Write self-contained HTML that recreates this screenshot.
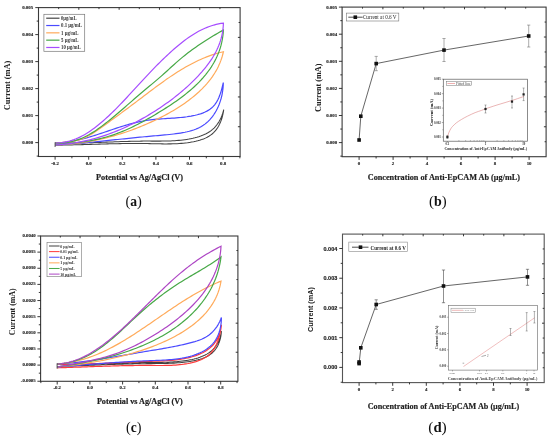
<!DOCTYPE html>
<html><head><meta charset="utf-8"><title>Figure</title>
<style>html,body{margin:0;padding:0;background:#fff;width:550px;height:438px;overflow:hidden}svg{display:block}</style>
</head><body>
<svg width="550" height="438" viewBox="0 0 550 438">
<rect width="550" height="438" fill="#fff"/>
<rect x="38.50" y="7.60" width="201.60" height="148.90" fill="none" stroke="#3a3a3a" stroke-width="1.10"/>
<path d="M35.30,142.60L38.50,142.60M35.30,115.60L38.50,115.60M35.30,88.60L38.50,88.60M35.30,61.60L38.50,61.60M35.30,34.60L38.50,34.60M35.30,7.60L38.50,7.60M36.70,156.10L38.50,156.10M36.70,129.10L38.50,129.10M36.70,102.10L38.50,102.10M36.70,75.10L38.50,75.10M36.70,48.10L38.50,48.10M36.70,21.10L38.50,21.10M55.10,156.50L55.10,159.70M88.70,156.50L88.70,159.70M122.30,156.50L122.30,159.70M155.90,156.50L155.90,159.70M189.50,156.50L189.50,159.70M223.10,156.50L223.10,159.70M71.90,156.50L71.90,158.30M105.50,156.50L105.50,158.30M139.10,156.50L139.10,158.30M172.70,156.50L172.70,158.30M206.30,156.50L206.30,158.30M239.90,156.50L239.90,158.30M58.66,7.60L58.66,9.10M78.82,7.60L78.82,9.80M98.98,7.60L98.98,9.10M119.14,7.60L119.14,9.80M139.30,7.60L139.30,9.10M159.46,7.60L159.46,9.80M179.62,7.60L179.62,9.10M199.78,7.60L199.78,9.80M219.94,7.60L219.94,9.10M240.10,22.49L238.60,22.49M240.10,37.38L237.90,37.38M240.10,52.27L238.60,52.27M240.10,67.16L237.90,67.16M240.10,82.05L238.60,82.05M240.10,96.94L237.90,96.94M240.10,111.83L238.60,111.83M240.10,126.72L237.90,126.72M240.10,141.61L238.60,141.61" stroke="#222" stroke-width="0.90" fill="none"/>
<text x="33.20" y="144.20" font-size="4.90" font-family="'Liberation Serif', 'DejaVu Serif', serif" text-anchor="end" font-weight="bold" fill="#1a1a1a" stroke="#1a1a1a" stroke-width="0.12">0.000</text>
<text x="33.20" y="117.20" font-size="4.90" font-family="'Liberation Serif', 'DejaVu Serif', serif" text-anchor="end" font-weight="bold" fill="#1a1a1a" stroke="#1a1a1a" stroke-width="0.12">0.001</text>
<text x="33.20" y="90.20" font-size="4.90" font-family="'Liberation Serif', 'DejaVu Serif', serif" text-anchor="end" font-weight="bold" fill="#1a1a1a" stroke="#1a1a1a" stroke-width="0.12">0.002</text>
<text x="33.20" y="63.20" font-size="4.90" font-family="'Liberation Serif', 'DejaVu Serif', serif" text-anchor="end" font-weight="bold" fill="#1a1a1a" stroke="#1a1a1a" stroke-width="0.12">0.003</text>
<text x="33.20" y="36.20" font-size="4.90" font-family="'Liberation Serif', 'DejaVu Serif', serif" text-anchor="end" font-weight="bold" fill="#1a1a1a" stroke="#1a1a1a" stroke-width="0.12">0.004</text>
<text x="33.20" y="9.20" font-size="4.90" font-family="'Liberation Serif', 'DejaVu Serif', serif" text-anchor="end" font-weight="bold" fill="#1a1a1a" stroke="#1a1a1a" stroke-width="0.12">0.005</text>
<text x="55.10" y="164.60" font-size="4.90" font-family="'Liberation Serif', 'DejaVu Serif', serif" text-anchor="middle" font-weight="bold" fill="#1a1a1a" stroke="#1a1a1a" stroke-width="0.12">-0.2</text>
<text x="88.70" y="164.60" font-size="4.90" font-family="'Liberation Serif', 'DejaVu Serif', serif" text-anchor="middle" font-weight="bold" fill="#1a1a1a" stroke="#1a1a1a" stroke-width="0.12">0.0</text>
<text x="122.30" y="164.60" font-size="4.90" font-family="'Liberation Serif', 'DejaVu Serif', serif" text-anchor="middle" font-weight="bold" fill="#1a1a1a" stroke="#1a1a1a" stroke-width="0.12">0.2</text>
<text x="155.90" y="164.60" font-size="4.90" font-family="'Liberation Serif', 'DejaVu Serif', serif" text-anchor="middle" font-weight="bold" fill="#1a1a1a" stroke="#1a1a1a" stroke-width="0.12">0.4</text>
<text x="189.50" y="164.60" font-size="4.90" font-family="'Liberation Serif', 'DejaVu Serif', serif" text-anchor="middle" font-weight="bold" fill="#1a1a1a" stroke="#1a1a1a" stroke-width="0.12">0.6</text>
<text x="223.10" y="164.60" font-size="4.90" font-family="'Liberation Serif', 'DejaVu Serif', serif" text-anchor="middle" font-weight="bold" fill="#1a1a1a" stroke="#1a1a1a" stroke-width="0.12">0.8</text>
<path d="M55.10,143.00L57.18,143.04L59.25,143.08L61.32,143.10L63.39,143.12L65.46,143.13L67.53,143.13L69.59,143.12L71.65,143.11L73.71,143.09L75.77,143.06L77.82,143.02L79.88,142.98L81.93,142.94L83.98,142.89L86.03,142.83L88.08,142.77L90.13,142.71L92.18,142.65L94.23,142.58L96.28,142.51L98.32,142.43L100.37,142.36L102.42,142.28L104.46,142.20L106.51,142.13L108.56,142.05L110.61,141.97L112.65,141.90L114.70,141.82L116.75,141.75L118.80,141.67L120.86,141.60L122.91,141.54L124.96,141.47L127.02,141.41L129.08,141.36L131.13,141.30L133.19,141.26L135.26,141.21L137.32,141.18L139.39,141.15L141.46,141.12L143.53,141.10L145.60,141.09L147.68,141.09L149.76,141.09L151.84,141.10L153.92,141.10L156.00,141.11L158.08,141.11L160.16,141.10L162.24,141.09L164.32,141.06L166.39,141.02L168.46,140.97L170.53,140.90L172.59,140.81L174.65,140.69L176.71,140.55L178.75,140.39L180.79,140.19L182.83,139.96L184.85,139.70L186.87,139.40L188.88,139.07L190.88,138.69L192.87,138.27L194.85,137.80L196.81,137.28L198.74,136.70L200.64,136.06L202.51,135.35L204.34,134.57L206.11,133.71L207.83,132.76L209.49,131.72L211.08,130.59L212.60,129.35L214.04,128.01L215.40,126.57L216.68,125.02L217.87,123.39L218.98,121.66L220.00,119.84L220.93,117.95L221.76,115.97L222.50,113.91L223.15,111.79L223.70,109.60L223.39,111.79L222.98,113.98L222.48,116.13L221.89,118.25L221.19,120.33L220.40,122.34L219.51,124.29L218.53,126.16L217.44,127.95L216.26,129.63L214.98,131.20L213.60,132.65L212.12,133.97L210.55,135.17L208.90,136.26L207.17,137.24L205.38,138.12L203.52,138.90L201.62,139.60L199.67,140.23L197.68,140.78L195.67,141.27L193.64,141.70L191.60,142.08L189.54,142.42L187.48,142.72L185.41,142.97L183.34,143.19L181.26,143.38L179.17,143.53L177.07,143.65L174.98,143.75L172.87,143.82L170.76,143.87L168.65,143.89L166.54,143.90L164.42,143.90L162.30,143.88L160.18,143.85L158.06,143.81L155.94,143.77L153.82,143.72L151.70,143.67L149.58,143.62L147.46,143.58L145.34,143.55L143.23,143.52L141.12,143.50L139.01,143.48L136.90,143.47L134.80,143.47L132.69,143.48L130.59,143.49L128.49,143.50L126.39,143.52L124.30,143.55L122.20,143.58L120.10,143.61L118.01,143.65L115.92,143.69L113.83,143.74L111.73,143.79L109.64,143.84L107.55,143.89L105.46,143.95L103.37,144.00L101.28,144.06L99.19,144.12L97.10,144.19L95.01,144.25L92.92,144.31L90.83,144.37L88.74,144.44L86.64,144.50L84.55,144.56L82.46,144.62L80.36,144.68L78.27,144.74L76.17,144.80L74.07,144.85L71.97,144.90L69.87,144.95L67.76,145.00L65.66,145.04L63.55,145.08L61.44,145.12L59.33,145.15L57.22,145.18L55.10,145.20" fill="none" stroke="#444444" stroke-width="1.05" stroke-linejoin="miter"/>
<path d="M55.10,143.00L57.27,142.94L59.43,142.82L61.58,142.67L63.72,142.46L65.85,142.21L67.96,141.93L70.07,141.60L72.18,141.23L74.27,140.83L76.35,140.40L78.43,139.94L80.51,139.45L82.57,138.93L84.63,138.38L86.69,137.82L88.74,137.23L90.78,136.62L92.83,136.00L94.86,135.36L96.90,134.71L98.93,134.05L100.97,133.38L103.00,132.70L105.03,132.02L107.06,131.33L109.09,130.64L111.12,129.96L113.15,129.28L115.18,128.60L117.21,127.93L119.25,127.27L121.29,126.63L123.33,125.99L125.38,125.37L127.43,124.77L129.49,124.19L131.55,123.63L133.62,123.09L135.69,122.58L137.77,122.10L139.86,121.64L141.96,121.22L144.06,120.83L146.17,120.47L148.29,120.16L150.42,119.88L152.56,119.63L154.71,119.41L156.86,119.21L159.01,119.04L161.17,118.88L163.33,118.73L165.49,118.59L167.65,118.45L169.81,118.32L171.97,118.18L174.12,118.03L176.27,117.87L178.41,117.70L180.55,117.51L182.68,117.29L184.80,117.04L186.91,116.77L189.01,116.45L191.10,116.10L193.17,115.70L195.23,115.26L197.28,114.76L199.29,114.20L201.27,113.57L203.19,112.85L205.07,112.05L206.88,111.14L208.61,110.13L210.26,109.01L211.82,107.75L213.28,106.36L214.62,104.83L215.85,103.15L216.97,101.34L217.98,99.42L218.90,97.41L219.73,95.34L220.48,93.21L221.16,91.06L221.77,88.91L222.33,86.76L222.83,84.65L223.30,82.60L223.24,84.89L223.09,87.19L222.86,89.48L222.54,91.76L222.15,94.02L221.67,96.27L221.11,98.49L220.46,100.69L219.74,102.84L218.94,104.96L218.05,107.03L217.09,109.05L216.05,111.02L214.93,112.93L213.73,114.76L212.45,116.53L211.10,118.22L209.67,119.84L208.17,121.36L206.59,122.79L204.94,124.13L203.21,125.36L201.41,126.49L199.54,127.51L197.60,128.43L195.60,129.25L193.56,129.99L191.46,130.65L189.32,131.24L187.16,131.77L184.96,132.24L182.74,132.66L180.50,133.04L178.26,133.38L176.01,133.70L173.75,133.99L171.50,134.26L169.24,134.50L166.97,134.73L164.71,134.95L162.45,135.16L160.18,135.36L157.92,135.55L155.66,135.75L153.40,135.94L151.15,136.14L148.90,136.35L146.65,136.55L144.40,136.76L142.16,136.98L139.92,137.20L137.68,137.42L135.44,137.64L133.21,137.86L130.98,138.09L128.75,138.32L126.52,138.55L124.29,138.78L122.07,139.01L119.84,139.24L117.62,139.48L115.40,139.71L113.17,139.94L110.95,140.17L108.73,140.40L106.51,140.63L104.29,140.86L102.07,141.09L99.84,141.31L97.62,141.54L95.40,141.76L93.18,141.98L90.95,142.19L88.73,142.40L86.50,142.61L84.27,142.81L82.04,143.01L79.81,143.21L77.57,143.40L75.34,143.59L73.10,143.77L70.86,143.94L68.62,144.11L66.37,144.28L64.12,144.44L61.87,144.59L59.62,144.73L57.36,144.87L55.10,145.00" fill="none" stroke="#4a4aff" stroke-width="1.20" stroke-linejoin="miter"/>
<path d="M55.10,143.00L57.27,142.84L59.46,142.69L61.67,142.54L63.88,142.38L66.10,142.19L68.32,141.97L70.52,141.69L72.70,141.36L74.87,140.96L76.99,140.48L79.09,139.90L81.13,139.22L83.14,138.44L85.11,137.57L87.04,136.62L88.94,135.60L90.81,134.51L92.66,133.38L94.48,132.19L96.30,130.98L98.09,129.74L99.88,128.48L101.67,127.22L103.45,125.95L105.22,124.68L107.00,123.41L108.77,122.14L110.54,120.86L112.30,119.58L114.06,118.30L115.82,117.01L117.58,115.72L119.34,114.43L121.09,113.14L122.85,111.84L124.60,110.54L126.35,109.24L128.10,107.94L129.84,106.63L131.59,105.32L133.34,104.01L135.09,102.69L136.83,101.37L138.58,100.05L140.33,98.72L142.07,97.40L143.82,96.07L145.57,94.74L147.32,93.41L149.08,92.09L150.83,90.76L152.59,89.44L154.35,88.12L156.12,86.81L157.89,85.51L159.67,84.21L161.45,82.92L163.23,81.64L165.02,80.37L166.82,79.11L168.62,77.87L170.43,76.63L172.25,75.41L174.08,74.21L175.91,73.02L177.75,71.84L179.61,70.69L181.47,69.55L183.34,68.44L185.22,67.34L187.11,66.27L189.01,65.21L190.92,64.19L192.85,63.18L194.79,62.20L196.74,61.25L198.70,60.33L200.67,59.43L202.66,58.56L204.67,57.72L206.68,56.92L208.72,56.14L210.77,55.40L212.83,54.69L214.91,54.02L217.01,53.38L219.12,52.78L221.25,52.22L223.40,51.70L222.87,54.01L222.26,56.26L221.57,58.48L220.81,60.65L219.98,62.78L219.09,64.87L218.13,66.91L217.11,68.92L216.03,70.88L214.88,72.81L213.69,74.70L212.43,76.56L211.13,78.37L209.77,80.15L208.37,81.90L206.92,83.61L205.43,85.29L203.89,86.94L202.32,88.56L200.70,90.14L199.06,91.70L197.37,93.23L195.66,94.72L193.92,96.20L192.15,97.64L190.35,99.06L188.53,100.45L186.68,101.81L184.81,103.15L182.91,104.46L180.99,105.75L179.05,107.01L177.10,108.25L175.12,109.47L173.13,110.66L171.12,111.83L169.10,112.98L167.06,114.10L165.01,115.21L162.95,116.29L160.88,117.35L158.80,118.40L156.71,119.42L154.61,120.42L152.51,121.40L150.41,122.37L148.30,123.31L146.18,124.24L144.06,125.15L141.93,126.04L139.80,126.91L137.66,127.76L135.52,128.59L133.37,129.40L131.22,130.19L129.07,130.96L126.90,131.71L124.74,132.45L122.57,133.16L120.39,133.85L118.21,134.52L116.02,135.18L113.83,135.81L111.63,136.42L109.43,137.02L107.22,137.59L105.01,138.14L102.79,138.67L100.57,139.18L98.34,139.67L96.11,140.14L93.88,140.59L91.63,141.02L89.39,141.43L87.14,141.82L84.88,142.18L82.62,142.53L80.35,142.85L78.08,143.15L75.81,143.43L73.52,143.69L71.24,143.93L68.95,144.15L66.65,144.35L64.35,144.52L62.05,144.67L59.74,144.80L57.42,144.91L55.10,145.00" fill="none" stroke="#ffaa5a" stroke-width="1.20" stroke-linejoin="miter"/>
<path d="M55.10,143.00L57.54,143.08L59.95,143.06L62.33,142.94L64.68,142.74L67.00,142.44L69.29,142.06L71.54,141.58L73.77,141.03L75.97,140.39L78.13,139.67L80.26,138.87L82.35,137.99L84.42,137.05L86.45,136.03L88.46,134.95L90.44,133.82L92.40,132.63L94.33,131.40L96.24,130.13L98.14,128.82L100.01,127.48L101.87,126.11L103.72,124.72L105.55,123.31L107.38,121.89L109.19,120.44L110.99,118.99L112.78,117.52L114.57,116.03L116.34,114.54L118.12,113.04L119.88,111.52L121.64,110.01L123.40,108.48L125.15,106.95L126.90,105.42L128.65,103.89L130.40,102.36L132.15,100.83L133.90,99.30L135.65,97.77L137.41,96.25L139.17,94.74L140.93,93.23L142.70,91.74L144.48,90.25L146.26,88.77L148.04,87.29L149.82,85.81L151.60,84.34L153.37,82.86L155.14,81.37L156.91,79.88L158.67,78.38L160.41,76.87L162.15,75.34L163.88,73.80L165.60,72.25L167.31,70.69L169.02,69.13L170.73,67.56L172.44,66.00L174.16,64.45L175.88,62.91L177.62,61.38L179.37,59.87L181.13,58.37L182.91,56.90L184.71,55.45L186.52,54.01L188.35,52.60L190.20,51.21L192.05,49.83L193.93,48.48L195.81,47.14L197.71,45.82L199.62,44.51L201.55,43.23L203.48,41.95L205.43,40.70L207.39,39.46L209.36,38.23L211.34,37.02L213.33,35.82L215.32,34.63L217.33,33.45L219.35,32.29L221.37,31.14L223.40,30.00L223.23,32.63L222.96,35.22L222.61,37.76L222.18,40.26L221.67,42.72L221.07,45.13L220.40,47.50L219.65,49.83L218.83,52.12L217.94,54.37L216.98,56.58L215.95,58.76L214.85,60.89L213.69,62.99L212.47,65.05L211.19,67.08L209.85,69.07L208.45,71.02L207.01,72.95L205.51,74.84L203.96,76.69L202.36,78.52L200.72,80.31L199.04,82.08L197.31,83.81L195.55,85.52L193.74,87.20L191.90,88.85L190.03,90.47L188.13,92.07L186.20,93.64L184.24,95.19L182.26,96.72L180.25,98.22L178.22,99.69L176.17,101.15L174.11,102.58L172.03,104.00L169.93,105.39L167.83,106.77L165.72,108.12L163.60,109.46L161.47,110.78L159.35,112.09L157.22,113.38L155.09,114.65L152.96,115.91L150.83,117.15L148.70,118.37L146.56,119.58L144.42,120.76L142.27,121.93L140.12,123.07L137.95,124.20L135.78,125.30L133.60,126.37L131.40,127.43L129.20,128.46L126.98,129.46L124.75,130.43L122.50,131.37L120.24,132.28L117.97,133.16L115.68,134.00L113.37,134.81L111.05,135.57L108.71,136.30L106.36,136.99L103.99,137.64L101.61,138.26L99.21,138.83L96.80,139.38L94.38,139.89L91.95,140.37L89.51,140.82L87.06,141.24L84.61,141.64L82.15,142.02L79.69,142.37L77.23,142.70L74.76,143.01L72.29,143.30L69.82,143.58L67.36,143.84L64.90,144.09L62.44,144.33L59.99,144.56L57.54,144.78L55.10,145.00" fill="none" stroke="#46a846" stroke-width="1.20" stroke-linejoin="miter"/>
<path d="M55.10,143.00L57.61,142.94L60.07,142.76L62.48,142.48L64.85,142.10L67.18,141.61L69.46,141.03L71.71,140.36L73.92,139.61L76.09,138.77L78.22,137.85L80.33,136.86L82.39,135.80L84.43,134.67L86.44,133.49L88.41,132.24L90.36,130.94L92.28,129.60L94.18,128.21L96.06,126.77L97.91,125.31L99.74,123.81L101.55,122.28L103.35,120.73L105.12,119.15L106.88,117.56L108.63,115.94L110.36,114.31L112.08,112.66L113.78,110.99L115.47,109.31L117.16,107.62L118.83,105.91L120.49,104.19L122.15,102.46L123.79,100.72L125.44,98.98L127.07,97.22L128.70,95.46L130.33,93.70L131.95,91.93L133.57,90.16L135.20,88.39L136.82,86.62L138.44,84.85L140.06,83.08L141.69,81.31L143.31,79.55L144.94,77.80L146.58,76.05L148.22,74.30L149.86,72.56L151.52,70.83L153.17,69.11L154.84,67.39L156.51,65.69L158.19,63.99L159.88,62.31L161.57,60.64L163.28,58.97L165.00,57.33L166.73,55.69L168.47,54.07L170.22,52.47L171.99,50.88L173.77,49.31L175.56,47.75L177.37,46.21L179.20,44.70L181.04,43.20L182.90,41.74L184.78,40.30L186.68,38.89L188.60,37.52L190.54,36.19L192.51,34.91L194.51,33.66L196.53,32.47L198.59,31.33L200.67,30.24L202.78,29.21L204.92,28.25L207.10,27.34L209.32,26.51L211.57,25.74L213.85,25.05L216.18,24.44L218.54,23.91L220.95,23.46L223.40,23.10L223.28,25.73L223.05,28.32L222.73,30.86L222.31,33.37L221.79,35.84L221.19,38.26L220.49,40.65L219.72,42.99L218.85,45.30L217.91,47.57L216.89,49.80L215.80,51.99L214.63,54.14L213.40,56.26L212.11,58.35L210.76,60.40L209.35,62.42L207.89,64.41L206.39,66.37L204.84,68.30L203.25,70.20L201.63,72.09L199.97,73.94L198.29,75.78L196.58,77.59L194.84,79.38L193.07,81.15L191.28,82.89L189.47,84.62L187.63,86.32L185.77,88.00L183.88,89.66L181.98,91.29L180.05,92.91L178.10,94.50L176.14,96.07L174.16,97.62L172.16,99.15L170.14,100.66L168.11,102.15L166.06,103.61L164.00,105.06L161.92,106.49L159.83,107.89L157.74,109.28L155.63,110.64L153.51,111.99L151.37,113.31L149.23,114.62L147.08,115.90L144.92,117.16L142.74,118.39L140.56,119.61L138.36,120.80L136.16,121.96L133.94,123.11L131.71,124.23L129.47,125.32L127.23,126.39L124.97,127.43L122.70,128.45L120.42,129.45L118.13,130.41L115.83,131.35L113.52,132.26L111.20,133.15L108.87,134.00L106.53,134.83L104.18,135.63L101.82,136.40L99.45,137.14L97.07,137.85L94.68,138.53L92.28,139.18L89.86,139.80L87.44,140.38L85.01,140.94L82.57,141.46L80.12,141.95L77.67,142.41L75.20,142.84L72.72,143.23L70.23,143.59L67.73,143.91L65.22,144.20L62.71,144.45L60.18,144.67L57.64,144.85L55.10,145.00" fill="none" stroke="#a64cff" stroke-width="1.20" stroke-linejoin="miter"/>
<line x1="55.10" y1="142.30" x2="55.10" y2="147.00" stroke="#444" stroke-width="0.90"/>
<rect x="43.9" y="14.3" width="40.8" height="37" fill="#fff" stroke="#777" stroke-width="0.7"/>
<line x1="46.20" y1="18.20" x2="59.50" y2="18.20" stroke="#444444" stroke-width="1.20"/>
<text x="61.00" y="20.00" font-size="5.20" font-family="'Liberation Serif', 'DejaVu Serif', serif" font-weight="bold" fill="#333" textLength="15.60" lengthAdjust="spacingAndGlyphs">0µg/mL</text>
<line x1="46.20" y1="25.52" x2="59.50" y2="25.52" stroke="#4a4aff" stroke-width="1.20"/>
<text x="61.00" y="27.32" font-size="5.20" font-family="'Liberation Serif', 'DejaVu Serif', serif" font-weight="bold" fill="#333" textLength="21.10" lengthAdjust="spacingAndGlyphs">0.1 µg/mL</text>
<line x1="46.20" y1="32.84" x2="59.50" y2="32.84" stroke="#ffaa5a" stroke-width="1.20"/>
<text x="61.00" y="34.64" font-size="5.20" font-family="'Liberation Serif', 'DejaVu Serif', serif" font-weight="bold" fill="#333" textLength="17.50" lengthAdjust="spacingAndGlyphs">1 µg/mL</text>
<line x1="46.20" y1="40.16" x2="59.50" y2="40.16" stroke="#46a846" stroke-width="1.20"/>
<text x="61.00" y="41.96" font-size="5.20" font-family="'Liberation Serif', 'DejaVu Serif', serif" font-weight="bold" fill="#333" textLength="17.50" lengthAdjust="spacingAndGlyphs">5 µg/mL</text>
<line x1="46.20" y1="47.48" x2="59.50" y2="47.48" stroke="#a64cff" stroke-width="1.20"/>
<text x="61.00" y="49.28" font-size="5.20" font-family="'Liberation Serif', 'DejaVu Serif', serif" font-weight="bold" fill="#333" textLength="19.80" lengthAdjust="spacingAndGlyphs">10 µg/mL</text>
<text x="96.00" y="179.60" font-size="7.70" font-family="'Liberation Serif', 'DejaVu Serif', serif" font-weight="bold" fill="#222" stroke="#222" stroke-width="0.18" textLength="87.00" lengthAdjust="spacingAndGlyphs">Potential vs Ag/AgCl (V)</text>
<text x="0.00" y="0.00" font-size="7.70" font-family="'Liberation Serif', 'DejaVu Serif', serif" text-anchor="middle" font-weight="bold" fill="#222" textLength="49.60" lengthAdjust="spacingAndGlyphs" transform="translate(10.4,85.5) rotate(-90)">Current (mA)</text>
<rect x="342.10" y="7.10" width="204.00" height="149.60" fill="none" stroke="#3a3a3a" stroke-width="1.10"/>
<path d="M338.90,142.60L342.10,142.60M338.90,115.50L342.10,115.50M338.90,88.40L342.10,88.40M338.90,61.30L342.10,61.30M338.90,34.20L342.10,34.20M338.90,7.10L342.10,7.10M340.30,156.15L342.10,156.15M340.30,129.05L342.10,129.05M340.30,101.95L342.10,101.95M340.30,74.85L342.10,74.85M340.30,47.75L342.10,47.75M340.30,20.65L342.10,20.65M359.10,156.70L359.10,159.90M393.10,156.70L393.10,159.90M427.10,156.70L427.10,159.90M461.10,156.70L461.10,159.90M495.10,156.70L495.10,159.90M529.10,156.70L529.10,159.90M376.10,156.70L376.10,158.50M410.10,156.70L410.10,158.50M444.10,156.70L444.10,158.50M478.10,156.70L478.10,158.50M512.10,156.70L512.10,158.50M362.50,7.10L362.50,8.60M382.90,7.10L382.90,9.30M403.30,7.10L403.30,8.60M423.70,7.10L423.70,9.30M444.10,7.10L444.10,8.60M464.50,7.10L464.50,9.30M484.90,7.10L484.90,8.60M505.30,7.10L505.30,9.30M525.70,7.10L525.70,8.60M546.10,22.06L544.60,22.06M546.10,37.02L543.90,37.02M546.10,51.98L544.60,51.98M546.10,66.94L543.90,66.94M546.10,81.90L544.60,81.90M546.10,96.86L543.90,96.86M546.10,111.82L544.60,111.82M546.10,126.78L543.90,126.78M546.10,141.74L544.60,141.74" stroke="#222" stroke-width="0.90" fill="none"/>
<text x="337.20" y="144.20" font-size="4.90" font-family="'Liberation Serif', 'DejaVu Serif', serif" text-anchor="end" font-weight="bold" fill="#1a1a1a" stroke="#1a1a1a" stroke-width="0.12">0.000</text>
<text x="337.20" y="117.10" font-size="4.90" font-family="'Liberation Serif', 'DejaVu Serif', serif" text-anchor="end" font-weight="bold" fill="#1a1a1a" stroke="#1a1a1a" stroke-width="0.12">0.001</text>
<text x="337.20" y="90.00" font-size="4.90" font-family="'Liberation Serif', 'DejaVu Serif', serif" text-anchor="end" font-weight="bold" fill="#1a1a1a" stroke="#1a1a1a" stroke-width="0.12">0.002</text>
<text x="337.20" y="62.90" font-size="4.90" font-family="'Liberation Serif', 'DejaVu Serif', serif" text-anchor="end" font-weight="bold" fill="#1a1a1a" stroke="#1a1a1a" stroke-width="0.12">0.003</text>
<text x="337.20" y="35.80" font-size="4.90" font-family="'Liberation Serif', 'DejaVu Serif', serif" text-anchor="end" font-weight="bold" fill="#1a1a1a" stroke="#1a1a1a" stroke-width="0.12">0.004</text>
<text x="337.20" y="8.70" font-size="4.90" font-family="'Liberation Serif', 'DejaVu Serif', serif" text-anchor="end" font-weight="bold" fill="#1a1a1a" stroke="#1a1a1a" stroke-width="0.12">0.005</text>
<text x="359.10" y="164.60" font-size="4.90" font-family="'Liberation Serif', 'DejaVu Serif', serif" text-anchor="middle" font-weight="bold" fill="#1a1a1a" stroke="#1a1a1a" stroke-width="0.12">0</text>
<text x="393.10" y="164.60" font-size="4.90" font-family="'Liberation Serif', 'DejaVu Serif', serif" text-anchor="middle" font-weight="bold" fill="#1a1a1a" stroke="#1a1a1a" stroke-width="0.12">2</text>
<text x="427.10" y="164.60" font-size="4.90" font-family="'Liberation Serif', 'DejaVu Serif', serif" text-anchor="middle" font-weight="bold" fill="#1a1a1a" stroke="#1a1a1a" stroke-width="0.12">4</text>
<text x="461.10" y="164.60" font-size="4.90" font-family="'Liberation Serif', 'DejaVu Serif', serif" text-anchor="middle" font-weight="bold" fill="#1a1a1a" stroke="#1a1a1a" stroke-width="0.12">6</text>
<text x="495.10" y="164.60" font-size="4.90" font-family="'Liberation Serif', 'DejaVu Serif', serif" text-anchor="middle" font-weight="bold" fill="#1a1a1a" stroke="#1a1a1a" stroke-width="0.12">8</text>
<text x="529.10" y="164.60" font-size="4.90" font-family="'Liberation Serif', 'DejaVu Serif', serif" text-anchor="middle" font-weight="bold" fill="#1a1a1a" stroke="#1a1a1a" stroke-width="0.12">10</text>
<path d="M359.10,140.00L360.80,116.20L376.20,63.60L444.00,50.10L528.70,36.00" fill="none" stroke="#4a4a4a" stroke-width="0.85"/>
<path d="M376.20,56.40L376.20,70.70M374.60,56.40L377.80,56.40M374.60,70.70L377.80,70.70" stroke="#666" stroke-width="0.55" fill="none"/>
<path d="M444.00,38.50L444.00,61.50M442.40,38.50L445.60,38.50M442.40,61.50L445.60,61.50" stroke="#666" stroke-width="0.55" fill="none"/>
<path d="M528.70,25.10L528.70,47.00M527.10,25.10L530.30,25.10M527.10,47.00L530.30,47.00" stroke="#666" stroke-width="0.55" fill="none"/>
<rect x="357.30" y="138.20" width="3.6" height="3.6" fill="#111"/>
<rect x="359.00" y="114.40" width="3.6" height="3.6" fill="#111"/>
<rect x="374.40" y="61.80" width="3.6" height="3.6" fill="#111"/>
<rect x="442.20" y="48.30" width="3.6" height="3.6" fill="#111"/>
<rect x="526.90" y="34.20" width="3.6" height="3.6" fill="#111"/>
<rect x="346.4" y="13.1" width="52.4" height="7.9" fill="#fff" stroke="#777" stroke-width="0.6"/>
<line x1="348.30" y1="17.20" x2="362.70" y2="17.20" stroke="#222" stroke-width="0.80"/>
<rect x="353.5" y="15.4" width="3.6" height="3.6" fill="#111"/>
<text x="362.90" y="19.00" font-size="5.30" font-family="'Liberation Serif', 'DejaVu Serif', serif" fill="#222" textLength="33.70" lengthAdjust="spacingAndGlyphs">Current at 0.6 V</text>
<rect x="443.30" y="79.20" width="84.20" height="62.00" fill="none" stroke="#5a5a5a" stroke-width="0.70"/>
<text x="440.90" y="80.30" font-size="3.10" font-family="'Liberation Serif', 'DejaVu Serif', serif" text-anchor="end" font-weight="bold" fill="#333">0.005</text>
<text x="440.90" y="94.75" font-size="3.10" font-family="'Liberation Serif', 'DejaVu Serif', serif" text-anchor="end" font-weight="bold" fill="#333">0.004</text>
<text x="440.90" y="109.20" font-size="3.10" font-family="'Liberation Serif', 'DejaVu Serif', serif" text-anchor="end" font-weight="bold" fill="#333">0.003</text>
<text x="440.90" y="123.65" font-size="3.10" font-family="'Liberation Serif', 'DejaVu Serif', serif" text-anchor="end" font-weight="bold" fill="#333">0.002</text>
<text x="440.90" y="138.10" font-size="3.10" font-family="'Liberation Serif', 'DejaVu Serif', serif" text-anchor="end" font-weight="bold" fill="#333">0.001</text>
<text x="447.40" y="145.20" font-size="3.00" font-family="'Liberation Serif', 'DejaVu Serif', serif" text-anchor="middle" font-weight="bold" fill="#333">0.1</text>
<text x="485.60" y="145.20" font-size="3.00" font-family="'Liberation Serif', 'DejaVu Serif', serif" text-anchor="middle" font-weight="bold" fill="#333">1</text>
<text x="523.80" y="145.20" font-size="3.00" font-family="'Liberation Serif', 'DejaVu Serif', serif" text-anchor="middle" font-weight="bold" fill="#333">10</text>
<path d="M441.80,79.20L443.30,79.20M441.80,93.65L443.30,93.65M441.80,108.10L443.30,108.10M441.80,122.55L443.30,122.55M441.80,137.00L443.30,137.00M447.40,141.20L447.40,142.70M485.60,141.20L485.60,142.70M523.80,141.20L523.80,142.70M458.90,141.20L458.90,140.30M465.63,141.20L465.63,140.30M470.40,141.20L470.40,140.30M474.10,141.20L474.10,140.30M477.13,141.20L477.13,140.30M479.68,141.20L479.68,140.30M481.90,141.20L481.90,140.30M483.85,141.20L483.85,140.30M497.10,141.20L497.10,140.30M503.83,141.20L503.83,140.30M508.60,141.20L508.60,140.30M512.30,141.20L512.30,140.30M515.33,141.20L515.33,140.30M517.88,141.20L517.88,140.30M520.10,141.20L520.10,140.30M522.05,141.20L522.05,140.30M442.40,86.42L443.30,86.42M442.40,100.87L443.30,100.87M442.40,115.32L443.30,115.32M442.40,129.77L443.30,129.77" stroke="#555" stroke-width="0.50" fill="none"/>
<text x="0.00" y="0.00" font-size="3.70" font-family="'Liberation Serif', 'DejaVu Serif', serif" text-anchor="middle" font-weight="bold" fill="#222" textLength="27.00" lengthAdjust="spacingAndGlyphs" transform="translate(433.0,112.5) rotate(-90)">Current (mA)</text>
<text x="444.50" y="150.30" font-size="3.70" font-family="'Liberation Serif', 'DejaVu Serif', serif" font-weight="bold" fill="#222" textLength="82.50" lengthAdjust="spacingAndGlyphs">Concentration of Anti-EpCAM Antibody (µg/mL)</text>
<path d="M447.40,137.20C447.63,136.45 448.25,134.08 448.80,132.70C449.35,131.32 450.07,129.95 450.70,128.90C451.33,127.85 451.67,127.40 452.60,126.40C453.53,125.40 454.83,124.05 456.30,122.90C457.77,121.75 459.52,120.63 461.40,119.50C463.28,118.37 465.30,117.25 467.60,116.10C469.90,114.95 472.88,113.55 475.20,112.60C477.52,111.65 479.78,111.03 481.50,110.40C483.22,109.77 484.08,109.32 485.50,108.80C486.92,108.28 488.08,107.93 490.00,107.30C491.92,106.67 494.50,105.78 497.00,105.00C499.50,104.22 502.00,103.52 505.00,102.60C508.00,101.68 511.83,100.53 515.00,99.50C518.17,98.47 522.50,96.92 524.00,96.40" fill="none" stroke="#d87878" stroke-width="0.55"/>
<path d="M447.40,135.50L447.40,138.50M446.40,135.50L448.40,135.50M446.40,138.50L448.40,138.50" stroke="#555" stroke-width="0.45" fill="none"/>
<rect x="446.30" y="135.90" width="2.2" height="2.2" fill="#222"/>
<path d="M485.50,105.00L485.50,113.00M484.50,105.00L486.50,105.00M484.50,113.00L486.50,113.00" stroke="#555" stroke-width="0.45" fill="none"/>
<rect x="484.40" y="107.90" width="2.2" height="2.2" fill="#222"/>
<path d="M512.00,96.00L512.00,108.00M511.00,96.00L513.00,96.00M511.00,108.00L513.00,108.00" stroke="#555" stroke-width="0.45" fill="none"/>
<rect x="510.90" y="100.50" width="2.2" height="2.2" fill="#222"/>
<path d="M523.60,88.00L523.60,100.60M522.60,88.00L524.60,88.00M522.60,100.60L524.60,100.60" stroke="#555" stroke-width="0.45" fill="none"/>
<rect x="522.50" y="93.30" width="2.2" height="2.2" fill="#222"/>
<rect x="446.4" y="81.4" width="25" height="4.2" fill="#fff" stroke="#666" stroke-width="0.45"/>
<line x1="447.40" y1="83.50" x2="455.00" y2="83.50" stroke="#e06060" stroke-width="0.50"/>
<text x="456.00" y="84.80" font-size="3.20" font-family="'Liberation Serif', 'DejaVu Serif', serif" fill="#444" textLength="14.50" lengthAdjust="spacingAndGlyphs">Fitted line</text>
<text x="367.70" y="180.10" font-size="7.70" font-family="'Liberation Serif', 'DejaVu Serif', serif" font-weight="bold" fill="#222" stroke="#222" stroke-width="0.15" textLength="152.40" lengthAdjust="spacingAndGlyphs">Concentration of Anti-EpCAM Ab (µg/mL)</text>
<text x="0.00" y="0.00" font-size="7.70" font-family="'Liberation Serif', 'DejaVu Serif', serif" text-anchor="middle" font-weight="bold" fill="#222" textLength="48.30" lengthAdjust="spacingAndGlyphs" transform="translate(320.6,87.8) rotate(-90)">Current (mA)</text>
<rect x="40.60" y="236.00" width="197.30" height="145.30" fill="none" stroke="#3a3a3a" stroke-width="1.10"/>
<path d="M37.40,381.24L40.60,381.24M37.40,365.10L40.60,365.10M37.40,348.96L40.60,348.96M37.40,332.82L40.60,332.82M37.40,316.68L40.60,316.68M37.40,300.54L40.60,300.54M37.40,284.40L40.60,284.40M37.40,268.26L40.60,268.26M37.40,252.12L40.60,252.12M37.40,235.98L40.60,235.98M38.80,373.17L40.60,373.17M38.80,357.03L40.60,357.03M38.80,340.89L40.60,340.89M38.80,324.75L40.60,324.75M38.80,308.61L40.60,308.61M38.80,292.47L40.60,292.47M38.80,276.33L40.60,276.33M38.80,260.19L40.60,260.19M38.80,244.05L40.60,244.05M57.20,381.30L57.20,384.50M89.90,381.30L89.90,384.50M122.60,381.30L122.60,384.50M155.30,381.30L155.30,384.50M188.00,381.30L188.00,384.50M220.70,381.30L220.70,384.50M40.85,381.30L40.85,383.10M73.55,381.30L73.55,383.10M106.25,381.30L106.25,383.10M138.95,381.30L138.95,383.10M171.65,381.30L171.65,383.10M204.35,381.30L204.35,383.10M237.05,381.30L237.05,383.10M60.33,236.00L60.33,237.50M80.06,236.00L80.06,238.20M99.79,236.00L99.79,237.50M119.52,236.00L119.52,238.20M139.25,236.00L139.25,237.50M158.98,236.00L158.98,238.20M178.71,236.00L178.71,237.50M198.44,236.00L198.44,238.20M218.17,236.00L218.17,237.50M237.90,250.53L236.40,250.53M237.90,265.06L235.70,265.06M237.90,279.59L236.40,279.59M237.90,294.12L235.70,294.12M237.90,308.65L236.40,308.65M237.90,323.18L235.70,323.18M237.90,337.71L236.40,337.71M237.90,352.24L235.70,352.24M237.90,366.77L236.40,366.77" stroke="#222" stroke-width="0.90" fill="none"/>
<text x="35.60" y="382.24" font-size="4.80" font-family="'Liberation Serif', 'DejaVu Serif', serif" text-anchor="end" font-weight="bold" fill="#1a1a1a" stroke="#1a1a1a" stroke-width="0.12">-0.0005</text>
<text x="35.60" y="366.10" font-size="4.80" font-family="'Liberation Serif', 'DejaVu Serif', serif" text-anchor="end" font-weight="bold" fill="#1a1a1a" stroke="#1a1a1a" stroke-width="0.12">0.0000</text>
<text x="35.60" y="349.96" font-size="4.80" font-family="'Liberation Serif', 'DejaVu Serif', serif" text-anchor="end" font-weight="bold" fill="#1a1a1a" stroke="#1a1a1a" stroke-width="0.12">0.0005</text>
<text x="35.60" y="333.82" font-size="4.80" font-family="'Liberation Serif', 'DejaVu Serif', serif" text-anchor="end" font-weight="bold" fill="#1a1a1a" stroke="#1a1a1a" stroke-width="0.12">0.0010</text>
<text x="35.60" y="317.68" font-size="4.80" font-family="'Liberation Serif', 'DejaVu Serif', serif" text-anchor="end" font-weight="bold" fill="#1a1a1a" stroke="#1a1a1a" stroke-width="0.12">0.0015</text>
<text x="35.60" y="301.54" font-size="4.80" font-family="'Liberation Serif', 'DejaVu Serif', serif" text-anchor="end" font-weight="bold" fill="#1a1a1a" stroke="#1a1a1a" stroke-width="0.12">0.0020</text>
<text x="35.60" y="285.40" font-size="4.80" font-family="'Liberation Serif', 'DejaVu Serif', serif" text-anchor="end" font-weight="bold" fill="#1a1a1a" stroke="#1a1a1a" stroke-width="0.12">0.0025</text>
<text x="35.60" y="269.26" font-size="4.80" font-family="'Liberation Serif', 'DejaVu Serif', serif" text-anchor="end" font-weight="bold" fill="#1a1a1a" stroke="#1a1a1a" stroke-width="0.12">0.0030</text>
<text x="35.60" y="253.12" font-size="4.80" font-family="'Liberation Serif', 'DejaVu Serif', serif" text-anchor="end" font-weight="bold" fill="#1a1a1a" stroke="#1a1a1a" stroke-width="0.12">0.0035</text>
<text x="35.60" y="236.98" font-size="4.80" font-family="'Liberation Serif', 'DejaVu Serif', serif" text-anchor="end" font-weight="bold" fill="#1a1a1a" stroke="#1a1a1a" stroke-width="0.12">0.0040</text>
<text x="57.20" y="389.20" font-size="4.80" font-family="'Liberation Serif', 'DejaVu Serif', serif" text-anchor="middle" font-weight="bold" fill="#1a1a1a" stroke="#1a1a1a" stroke-width="0.12">-0.2</text>
<text x="89.90" y="389.20" font-size="4.80" font-family="'Liberation Serif', 'DejaVu Serif', serif" text-anchor="middle" font-weight="bold" fill="#1a1a1a" stroke="#1a1a1a" stroke-width="0.12">0.0</text>
<text x="122.60" y="389.20" font-size="4.80" font-family="'Liberation Serif', 'DejaVu Serif', serif" text-anchor="middle" font-weight="bold" fill="#1a1a1a" stroke="#1a1a1a" stroke-width="0.12">0.2</text>
<text x="155.30" y="389.20" font-size="4.80" font-family="'Liberation Serif', 'DejaVu Serif', serif" text-anchor="middle" font-weight="bold" fill="#1a1a1a" stroke="#1a1a1a" stroke-width="0.12">0.4</text>
<text x="188.00" y="389.20" font-size="4.80" font-family="'Liberation Serif', 'DejaVu Serif', serif" text-anchor="middle" font-weight="bold" fill="#1a1a1a" stroke="#1a1a1a" stroke-width="0.12">0.6</text>
<text x="220.70" y="389.20" font-size="4.80" font-family="'Liberation Serif', 'DejaVu Serif', serif" text-anchor="middle" font-weight="bold" fill="#1a1a1a" stroke="#1a1a1a" stroke-width="0.12">0.8</text>
<path d="M57.10,364.50L59.13,364.51L61.17,364.51L63.19,364.51L65.22,364.50L67.25,364.49L69.27,364.47L71.29,364.45L73.31,364.42L75.33,364.39L77.35,364.35L79.36,364.31L81.38,364.27L83.39,364.23L85.40,364.18L87.41,364.12L89.42,364.07L91.43,364.01L93.44,363.95L95.45,363.89L97.46,363.83L99.46,363.77L101.47,363.70L103.48,363.64L105.48,363.57L107.49,363.50L109.50,363.44L111.51,363.37L113.51,363.31L115.52,363.24L117.53,363.18L119.54,363.12L121.55,363.06L123.57,363.00L125.58,362.94L127.59,362.89L129.61,362.84L131.63,362.79L133.64,362.74L135.67,362.70L137.69,362.66L139.71,362.62L141.74,362.59L143.77,362.57L145.80,362.55L147.83,362.53L149.86,362.51L151.90,362.50L153.93,362.49L155.97,362.47L158.01,362.45L160.04,362.42L162.08,362.38L164.11,362.33L166.14,362.27L168.17,362.19L170.20,362.09L172.22,361.98L174.24,361.85L176.25,361.69L178.26,361.51L180.26,361.31L182.26,361.07L184.25,360.80L186.24,360.50L188.22,360.17L190.18,359.80L192.15,359.39L194.09,358.94L196.02,358.44L197.92,357.89L199.79,357.27L201.62,356.59L203.40,355.83L205.14,355.00L206.81,354.09L208.43,353.09L209.97,352.00L211.45,350.80L212.84,349.51L214.14,348.11L215.36,346.62L216.48,345.02L217.51,343.32L218.44,341.53L219.26,339.64L219.97,337.65L220.56,335.56L221.04,333.38L221.40,331.10L221.23,333.38L220.94,335.61L220.53,337.77L220.00,339.86L219.36,341.87L218.61,343.80L217.75,345.64L216.77,347.38L215.69,349.02L214.51,350.55L213.22,351.96L211.83,353.25L210.35,354.42L208.77,355.48L207.11,356.42L205.38,357.27L203.59,358.02L201.74,358.70L199.85,359.29L197.91,359.82L195.95,360.29L193.96,360.71L191.97,361.09L189.96,361.43L187.94,361.74L185.93,362.02L183.90,362.27L181.87,362.48L179.84,362.68L177.80,362.84L175.75,362.99L173.71,363.11L171.66,363.21L169.60,363.30L167.55,363.37L165.49,363.43L163.43,363.47L161.37,363.51L159.31,363.54L157.25,363.56L155.19,363.57L153.13,363.59L151.07,363.60L149.01,363.61L146.95,363.63L144.90,363.65L142.85,363.68L140.79,363.70L138.74,363.74L136.70,363.77L134.65,363.81L132.60,363.86L130.56,363.91L128.52,363.96L126.48,364.01L124.44,364.06L122.40,364.12L120.36,364.18L118.32,364.25L116.28,364.31L114.25,364.38L112.21,364.45L110.18,364.52L108.14,364.60L106.11,364.67L104.07,364.75L102.04,364.82L100.00,364.90L97.97,364.98L95.93,365.06L93.90,365.14L91.86,365.22L89.82,365.30L87.79,365.38L85.75,365.46L83.71,365.54L81.67,365.62L79.63,365.70L77.59,365.78L75.55,365.86L73.50,365.94L71.46,366.01L69.41,366.09L67.36,366.16L65.32,366.23L63.26,366.30L61.21,366.37L59.16,366.44L57.10,366.50" fill="none" stroke="#404040" stroke-width="1.05" stroke-linejoin="miter"/>
<path d="M57.10,364.50L59.17,364.50L61.24,364.49L63.31,364.48L65.37,364.46L67.43,364.43L69.49,364.40L71.54,364.36L73.60,364.32L75.65,364.28L77.69,364.22L79.74,364.17L81.78,364.11L83.82,364.04L85.86,363.97L87.90,363.90L89.94,363.82L91.97,363.75L94.01,363.67L96.04,363.58L98.07,363.50L100.11,363.41L102.14,363.32L104.17,363.23L106.20,363.14L108.24,363.04L110.27,362.95L112.30,362.85L114.34,362.76L116.37,362.66L118.41,362.57L120.45,362.48L122.48,362.38L124.52,362.29L126.57,362.20L128.61,362.11L130.66,362.03L132.70,361.94L134.75,361.86L136.81,361.78L138.86,361.70L140.92,361.63L142.98,361.56L145.05,361.49L147.12,361.43L149.19,361.37L151.26,361.31L153.34,361.25L155.41,361.19L157.49,361.13L159.57,361.05L161.64,360.97L163.71,360.87L165.78,360.75L167.85,360.62L169.91,360.47L171.96,360.30L174.01,360.10L176.05,359.87L178.08,359.62L180.10,359.33L182.11,359.00L184.11,358.64L186.10,358.24L188.08,357.80L190.04,357.31L191.99,356.78L193.92,356.20L195.83,355.56L197.72,354.87L199.58,354.12L201.40,353.30L203.17,352.42L204.90,351.46L206.56,350.43L208.17,349.33L209.71,348.13L211.17,346.86L212.55,345.49L213.85,344.03L215.05,342.48L216.17,340.85L217.19,339.12L218.11,337.31L218.93,335.42L219.64,333.45L220.25,331.40L220.75,329.27L221.13,327.07L221.40,324.80L221.18,326.81L220.89,328.87L220.54,330.97L220.12,333.09L219.63,335.22L219.06,337.34L218.41,339.44L217.68,341.50L216.85,343.52L215.94,345.47L214.93,347.34L213.81,349.13L212.60,350.81L211.30,352.39L209.90,353.85L208.41,355.21L206.83,356.44L205.16,357.55L203.42,358.54L201.62,359.43L199.76,360.22L197.85,360.93L195.92,361.57L193.96,362.14L191.98,362.66L189.98,363.12L187.97,363.53L185.93,363.89L183.88,364.21L181.82,364.48L179.74,364.71L177.65,364.90L175.54,365.06L173.43,365.19L171.31,365.29L169.18,365.37L167.05,365.43L164.91,365.46L162.76,365.48L160.62,365.49L158.47,365.49L156.32,365.48L154.17,365.47L152.02,365.45L149.88,365.44L147.74,365.44L145.61,365.44L143.48,365.44L141.35,365.45L139.22,365.46L137.10,365.48L134.99,365.50L132.87,365.53L130.76,365.56L128.65,365.60L126.55,365.63L124.44,365.67L122.34,365.72L120.24,365.77L118.14,365.82L116.05,365.87L113.95,365.93L111.86,365.99L109.76,366.05L107.67,366.11L105.57,366.17L103.48,366.24L101.39,366.31L99.30,366.38L97.20,366.45L95.11,366.52L93.01,366.59L90.92,366.67L88.82,366.74L86.72,366.81L84.62,366.89L82.52,366.96L80.42,367.04L78.31,367.11L76.21,367.19L74.10,367.26L71.98,367.33L69.87,367.40L67.75,367.47L65.63,367.54L63.50,367.61L61.37,367.67L59.24,367.74L57.10,367.80" fill="none" stroke="#ff3a3a" stroke-width="1.20" stroke-linejoin="miter"/>
<path d="M57.10,364.00L59.10,363.88L61.11,363.75L63.11,363.60L65.10,363.45L67.10,363.28L69.09,363.11L71.08,362.92L73.07,362.72L75.05,362.52L77.04,362.30L79.02,362.08L81.00,361.84L82.97,361.60L84.95,361.35L86.92,361.09L88.90,360.82L90.87,360.55L92.84,360.27L94.81,359.99L96.78,359.70L98.74,359.40L100.71,359.10L102.67,358.79L104.64,358.48L106.60,358.16L108.56,357.84L110.53,357.51L112.49,357.19L114.45,356.86L116.41,356.52L118.38,356.19L120.34,355.85L122.30,355.51L124.27,355.17L126.23,354.83L128.19,354.49L130.16,354.14L132.12,353.80L134.09,353.46L136.05,353.12L138.02,352.78L139.99,352.44L141.96,352.11L143.93,351.77L145.90,351.44L147.88,351.11L149.85,350.78L151.83,350.45L153.81,350.13L155.78,349.80L157.76,349.47L159.73,349.13L161.71,348.79L163.68,348.45L165.65,348.11L167.62,347.75L169.59,347.39L171.56,347.02L173.52,346.64L175.48,346.26L177.44,345.86L179.39,345.45L181.34,345.03L183.29,344.59L185.23,344.14L187.16,343.68L189.10,343.20L191.02,342.70L192.93,342.17L194.83,341.62L196.70,341.02L198.55,340.38L200.36,339.69L202.13,338.93L203.86,338.11L205.54,337.22L207.17,336.24L208.74,335.18L210.24,334.02L211.68,332.77L213.05,331.42L214.35,329.98L215.58,328.45L216.74,326.83L217.83,325.12L218.83,323.32L219.77,321.43L220.62,319.46L221.40,317.40L221.36,319.61L221.23,321.83L221.00,324.03L220.67,326.22L220.25,328.37L219.72,330.48L219.09,332.54L218.36,334.55L217.52,336.48L216.57,338.34L215.52,340.12L214.35,341.79L213.08,343.37L211.70,344.86L210.24,346.25L208.69,347.55L207.06,348.76L205.36,349.90L203.61,350.95L201.80,351.93L199.94,352.83L198.05,353.66L196.13,354.43L194.18,355.13L192.21,355.77L190.22,356.36L188.21,356.89L186.18,357.36L184.13,357.79L182.07,358.18L179.99,358.52L177.90,358.83L175.79,359.10L173.68,359.33L171.55,359.54L169.42,359.72L167.28,359.87L165.13,360.01L162.98,360.13L160.83,360.23L158.67,360.32L156.51,360.41L154.36,360.49L152.20,360.56L150.05,360.64L147.91,360.73L145.76,360.81L143.63,360.91L141.49,361.00L139.36,361.10L137.24,361.21L135.12,361.32L133.00,361.43L130.88,361.54L128.77,361.66L126.66,361.78L124.55,361.91L122.44,362.04L120.34,362.17L118.24,362.31L116.13,362.44L114.03,362.58L111.94,362.73L109.84,362.87L107.74,363.02L105.65,363.17L103.55,363.32L101.45,363.48L99.36,363.63L97.26,363.79L95.17,363.95L93.07,364.11L90.97,364.28L88.87,364.44L86.77,364.61L84.67,364.77L82.56,364.94L80.46,365.11L78.35,365.28L76.24,365.45L74.12,365.62L72.01,365.79L69.89,365.97L67.77,366.14L65.64,366.31L63.51,366.48L61.38,366.66L59.24,366.83L57.10,367.00" fill="none" stroke="#4a4aff" stroke-width="1.20" stroke-linejoin="miter"/>
<path d="M57.10,364.00L59.25,363.85L61.39,363.66L63.51,363.43L65.61,363.16L67.70,362.85L69.78,362.51L71.84,362.13L73.89,361.71L75.93,361.26L77.95,360.77L79.96,360.25L81.95,359.70L83.94,359.12L85.91,358.50L87.87,357.86L89.82,357.19L91.76,356.49L93.68,355.76L95.60,355.00L97.50,354.22L99.40,353.41L101.29,352.58L103.16,351.73L105.03,350.85L106.89,349.95L108.74,349.03L110.58,348.09L112.41,347.13L114.24,346.15L116.05,345.15L117.86,344.14L119.67,343.11L121.47,342.06L123.26,341.00L125.04,339.93L126.82,338.84L128.59,337.74L130.36,336.63L132.13,335.51L133.88,334.38L135.64,333.24L137.39,332.09L139.14,330.94L140.88,329.77L142.62,328.61L144.36,327.43L146.09,326.25L147.83,325.07L149.56,323.89L151.29,322.70L153.01,321.51L154.74,320.32L156.47,319.13L158.19,317.94L159.92,316.75L161.65,315.56L163.38,314.37L165.10,313.18L166.83,312.00L168.57,310.82L170.30,309.65L172.04,308.48L173.78,307.31L175.52,306.16L177.26,305.01L179.01,303.86L180.76,302.73L182.52,301.60L184.28,300.49L186.05,299.38L187.82,298.28L189.60,297.20L191.39,296.13L193.18,295.07L194.97,294.02L196.78,292.99L198.59,291.97L200.41,290.96L202.23,289.98L204.07,289.01L205.91,288.05L207.76,287.12L209.62,286.20L211.49,285.30L213.37,284.42L215.27,283.56L217.17,282.72L219.08,281.90L221.00,281.10L220.60,283.41L220.12,285.66L219.56,287.87L218.92,290.03L218.21,292.15L217.43,294.22L216.57,296.24L215.65,298.22L214.67,300.15L213.62,302.04L212.51,303.89L211.34,305.70L210.11,307.47L208.83,309.19L207.50,310.88L206.11,312.53L204.68,314.14L203.21,315.72L201.68,317.25L200.12,318.76L198.52,320.22L196.88,321.65L195.21,323.05L193.50,324.42L191.76,325.76L189.99,327.06L188.19,328.33L186.37,329.57L184.51,330.78L182.63,331.97L180.73,333.12L178.81,334.24L176.86,335.34L174.90,336.41L172.91,337.46L170.91,338.48L168.90,339.47L166.87,340.44L164.82,341.38L162.77,342.30L160.70,343.20L158.62,344.07L156.54,344.93L154.45,345.76L152.35,346.57L150.25,347.36L148.15,348.13L146.04,348.88L143.93,349.61L141.81,350.32L139.69,351.02L137.57,351.69L135.44,352.35L133.31,352.99L131.18,353.62L129.04,354.22L126.90,354.81L124.76,355.39L122.61,355.94L120.46,356.49L118.31,357.01L116.15,357.53L113.99,358.02L111.83,358.51L109.67,358.98L107.50,359.43L105.33,359.88L103.16,360.31L100.98,360.73L98.81,361.13L96.63,361.53L94.45,361.91L92.26,362.28L90.08,362.64L87.89,362.99L85.70,363.33L83.51,363.66L81.32,363.99L79.12,364.30L76.93,364.60L74.73,364.90L72.53,365.18L70.33,365.46L68.13,365.74L65.92,366.00L63.72,366.26L61.51,366.51L59.31,366.76L57.10,367.00" fill="none" stroke="#ffaa5a" stroke-width="1.20" stroke-linejoin="miter"/>
<path d="M57.10,364.00L59.46,363.85L61.79,363.63L64.09,363.34L66.34,362.97L68.57,362.54L70.76,362.04L72.91,361.48L75.04,360.86L77.13,360.17L79.20,359.43L81.23,358.63L83.24,357.78L85.23,356.87L87.18,355.92L89.11,354.92L91.02,353.87L92.91,352.78L94.77,351.64L96.62,350.47L98.44,349.25L100.25,348.00L102.04,346.72L103.81,345.41L105.57,344.06L107.31,342.69L109.04,341.29L110.76,339.87L112.47,338.43L114.16,336.96L115.85,335.48L117.53,333.98L119.20,332.47L120.86,330.95L122.52,329.42L124.18,327.88L125.83,326.33L127.48,324.78L129.13,323.23L130.77,321.68L132.42,320.13L134.07,318.58L135.73,317.05L137.38,315.52L139.05,314.00L140.71,312.49L142.39,310.99L144.07,309.51L145.76,308.05L147.45,306.59L149.16,305.15L150.87,303.73L152.59,302.32L154.32,300.92L156.05,299.53L157.80,298.16L159.55,296.81L161.32,295.46L163.09,294.14L164.88,292.82L166.67,291.52L168.48,290.24L170.29,288.97L172.12,287.71L173.96,286.47L175.81,285.24L177.67,284.03L179.55,282.84L181.44,281.65L183.34,280.48L185.24,279.32L187.16,278.17L189.08,277.03L191.00,275.89L192.93,274.76L194.86,273.63L196.78,272.49L198.71,271.36L200.63,270.22L202.54,269.08L204.45,267.92L206.35,266.76L208.23,265.59L210.11,264.40L211.97,263.20L213.81,261.98L215.64,260.75L217.45,259.49L219.24,258.21L221.00,256.90L220.66,259.40L220.26,261.86L219.78,264.30L219.25,266.70L218.66,269.07L218.01,271.41L217.30,273.71L216.54,275.99L215.72,278.23L214.84,280.43L213.92,282.61L212.93,284.75L211.90,286.86L210.82,288.94L209.69,290.99L208.51,293.01L207.28,294.99L206.00,296.95L204.69,298.87L203.32,300.76L201.92,302.62L200.47,304.45L198.98,306.25L197.45,308.02L195.89,309.75L194.28,311.46L192.64,313.13L190.97,314.78L189.26,316.40L187.52,317.98L185.74,319.54L183.93,321.06L182.10,322.56L180.23,324.02L178.34,325.46L176.42,326.87L174.47,328.24L172.50,329.59L170.51,330.91L168.49,332.20L166.45,333.46L164.40,334.69L162.32,335.90L160.22,337.07L158.11,338.22L155.98,339.33L153.84,340.42L151.68,341.49L149.50,342.52L147.31,343.53L145.11,344.51L142.90,345.47L140.67,346.40L138.43,347.31L136.18,348.19L133.92,349.05L131.65,349.88L129.38,350.70L127.09,351.49L124.79,352.25L122.49,353.00L120.18,353.73L117.86,354.43L115.53,355.11L113.20,355.78L110.87,356.42L108.53,357.05L106.19,357.66L103.84,358.25L101.49,358.82L99.14,359.38L96.79,359.92L94.44,360.44L92.08,360.95L89.73,361.44L87.38,361.92L85.02,362.38L82.67,362.83L80.33,363.27L77.98,363.69L75.64,364.10L73.30,364.50L70.97,364.89L68.64,365.26L66.32,365.63L64.01,365.99L61.70,366.33L59.40,366.67L57.10,367.00" fill="none" stroke="#46a846" stroke-width="1.20" stroke-linejoin="miter"/>
<path d="M57.10,364.00L59.48,363.82L61.82,363.55L64.13,363.19L66.41,362.76L68.66,362.26L70.88,361.68L73.06,361.03L75.23,360.32L77.36,359.54L79.47,358.70L81.55,357.80L83.60,356.85L85.64,355.84L87.65,354.79L89.63,353.68L91.60,352.53L93.54,351.34L95.47,350.12L97.37,348.85L99.26,347.55L101.13,346.23L102.98,344.87L104.82,343.49L106.64,342.09L108.45,340.67L110.25,339.22L112.03,337.76L113.80,336.28L115.55,334.78L117.30,333.26L119.03,331.73L120.75,330.18L122.47,328.62L124.17,327.05L125.87,325.47L127.55,323.88L129.23,322.27L130.90,320.67L132.57,319.05L134.23,317.43L135.88,315.80L137.53,314.17L139.18,312.54L140.82,310.91L142.46,309.28L144.09,307.64L145.73,306.01L147.36,304.38L148.99,302.75L150.62,301.13L152.25,299.50L153.89,297.88L155.52,296.26L157.16,294.65L158.80,293.04L160.44,291.44L162.09,289.84L163.74,288.25L165.40,286.66L167.07,285.09L168.74,283.52L170.42,281.96L172.11,280.42L173.81,278.88L175.52,277.36L177.24,275.85L178.98,274.36L180.72,272.88L182.49,271.42L184.26,269.98L186.05,268.55L187.85,267.14L189.67,265.74L191.50,264.37L193.35,263.01L195.22,261.67L197.10,260.36L198.99,259.06L200.90,257.79L202.83,256.53L204.78,255.30L206.74,254.09L208.72,252.91L210.72,251.74L212.74,250.61L214.78,249.49L216.83,248.40L218.91,247.34L221.00,246.30L220.84,248.85L220.60,251.36L220.28,253.85L219.89,256.30L219.41,258.72L218.87,261.11L218.25,263.47L217.57,265.80L216.81,268.10L215.99,270.37L215.11,272.60L214.16,274.81L213.15,276.99L212.08,279.14L210.95,281.26L209.76,283.35L208.52,285.41L207.23,287.45L205.89,289.45L204.49,291.43L203.05,293.38L201.56,295.30L200.03,297.20L198.45,299.07L196.83,300.91L195.18,302.72L193.48,304.51L191.75,306.27L189.98,308.01L188.18,309.72L186.35,311.40L184.49,313.06L182.60,314.70L180.69,316.30L178.75,317.89L176.79,319.45L174.80,320.99L172.80,322.50L170.78,323.99L168.74,325.45L166.69,326.89L164.63,328.31L162.55,329.71L160.46,331.08L158.37,332.43L156.27,333.76L154.17,335.06L152.05,336.34L149.93,337.60L147.80,338.84L145.67,340.05L143.52,341.23L141.37,342.39L139.20,343.52L137.03,344.62L134.85,345.70L132.65,346.75L130.45,347.77L128.23,348.77L126.00,349.73L123.76,350.66L121.51,351.57L119.24,352.44L116.96,353.28L114.67,354.09L112.37,354.87L110.04,355.61L107.71,356.32L105.36,357.00L103.00,357.66L100.62,358.28L98.24,358.88L95.85,359.45L93.45,360.01L91.04,360.54L88.62,361.05L86.20,361.55L83.78,362.04L81.35,362.51L78.92,362.98L76.48,363.43L74.05,363.88L71.62,364.32L69.19,364.76L66.76,365.20L64.34,365.65L61.92,366.09L59.50,366.54L57.10,367.00" fill="none" stroke="#ad45c4" stroke-width="1.20" stroke-linejoin="miter"/>
<line x1="57.10" y1="363.30" x2="57.10" y2="368.60" stroke="#444" stroke-width="0.90"/>
<rect x="47.0" y="242.5" width="34.5" height="34.2" fill="#fff" stroke="#777" stroke-width="0.6"/>
<line x1="49.00" y1="246.00" x2="59.60" y2="246.00" stroke="#404040" stroke-width="1.00"/>
<text x="60.20" y="247.50" font-size="4.30" font-family="'Liberation Serif', 'DejaVu Serif', serif" font-weight="bold" fill="#333" textLength="14.40" lengthAdjust="spacingAndGlyphs">0 µg/mL</text>
<line x1="49.00" y1="251.62" x2="59.60" y2="251.62" stroke="#ff3a3a" stroke-width="1.00"/>
<text x="60.20" y="253.12" font-size="4.30" font-family="'Liberation Serif', 'DejaVu Serif', serif" font-weight="bold" fill="#333" textLength="18.50" lengthAdjust="spacingAndGlyphs">0.01 µg/mL</text>
<line x1="49.00" y1="257.24" x2="59.60" y2="257.24" stroke="#4a4aff" stroke-width="1.00"/>
<text x="60.20" y="258.74" font-size="4.30" font-family="'Liberation Serif', 'DejaVu Serif', serif" font-weight="bold" fill="#333" textLength="17.10" lengthAdjust="spacingAndGlyphs">0.1 µg/mL</text>
<line x1="49.00" y1="262.86" x2="59.60" y2="262.86" stroke="#ffaa5a" stroke-width="1.00"/>
<text x="60.20" y="264.36" font-size="4.30" font-family="'Liberation Serif', 'DejaVu Serif', serif" font-weight="bold" fill="#333" textLength="14.40" lengthAdjust="spacingAndGlyphs">1 µg/mL</text>
<line x1="49.00" y1="268.48" x2="59.60" y2="268.48" stroke="#46a846" stroke-width="1.00"/>
<text x="60.20" y="269.98" font-size="4.30" font-family="'Liberation Serif', 'DejaVu Serif', serif" font-weight="bold" fill="#333" textLength="14.40" lengthAdjust="spacingAndGlyphs">5 µg/mL</text>
<line x1="49.00" y1="274.10" x2="59.60" y2="274.10" stroke="#ad45c4" stroke-width="1.00"/>
<text x="60.20" y="275.60" font-size="4.30" font-family="'Liberation Serif', 'DejaVu Serif', serif" font-weight="bold" fill="#333" textLength="16.00" lengthAdjust="spacingAndGlyphs">10 µg/mL</text>
<text x="96.90" y="403.80" font-size="7.70" font-family="'Liberation Serif', 'DejaVu Serif', serif" font-weight="bold" fill="#222" stroke="#222" stroke-width="0.18" textLength="85.90" lengthAdjust="spacingAndGlyphs">Potential vs Ag/AgCl (V)</text>
<text x="0.00" y="0.00" font-size="8.00" font-family="'Liberation Serif', 'DejaVu Serif', serif" text-anchor="middle" font-weight="bold" fill="#222" textLength="47.00" lengthAdjust="spacingAndGlyphs" transform="translate(15.0,311.8) rotate(-90)">Current (mA)</text>
<rect x="342.50" y="234.10" width="201.70" height="148.50" fill="none" stroke="#555" stroke-width="1.10"/>
<path d="M339.30,367.40L342.50,367.40M339.30,337.67L342.50,337.67M339.30,307.95L342.50,307.95M339.30,278.22L342.50,278.22M339.30,248.50L342.50,248.50M340.70,382.26L342.50,382.26M340.70,352.54L342.50,352.54M340.70,322.81L342.50,322.81M340.70,293.09L342.50,293.09M340.70,263.36L342.50,263.36M359.10,382.60L359.10,385.80M392.70,382.60L392.70,385.80M426.30,382.60L426.30,385.80M459.90,382.60L459.90,385.80M493.50,382.60L493.50,385.80M527.10,382.60L527.10,385.80M375.90,382.60L375.90,384.40M409.50,382.60L409.50,384.40M443.10,382.60L443.10,384.40M476.70,382.60L476.70,384.40M510.30,382.60L510.30,384.40M362.67,234.10L362.67,235.60M382.84,234.10L382.84,236.30M403.01,234.10L403.01,235.60M423.18,234.10L423.18,236.30M443.35,234.10L443.35,235.60M463.52,234.10L463.52,236.30M483.69,234.10L483.69,235.60M503.86,234.10L503.86,236.30M524.03,234.10L524.03,235.60M544.20,248.95L542.70,248.95M544.20,263.80L542.00,263.80M544.20,278.65L542.70,278.65M544.20,293.50L542.00,293.50M544.20,308.35L542.70,308.35M544.20,323.20L542.00,323.20M544.20,338.05L542.70,338.05M544.20,352.90L542.00,352.90M544.20,367.75L542.70,367.75" stroke="#222" stroke-width="0.90" fill="none"/>
<text x="337.30" y="369.40" font-size="5.50" font-family="'Liberation Sans', 'DejaVu Sans', sans-serif" text-anchor="end" font-weight="bold" fill="#1a1a1a" stroke="#1a1a1a" stroke-width="0.15">0.000</text>
<text x="337.30" y="339.67" font-size="5.50" font-family="'Liberation Sans', 'DejaVu Sans', sans-serif" text-anchor="end" font-weight="bold" fill="#1a1a1a" stroke="#1a1a1a" stroke-width="0.15">0.001</text>
<text x="337.30" y="309.95" font-size="5.50" font-family="'Liberation Sans', 'DejaVu Sans', sans-serif" text-anchor="end" font-weight="bold" fill="#1a1a1a" stroke="#1a1a1a" stroke-width="0.15">0.002</text>
<text x="337.30" y="280.22" font-size="5.50" font-family="'Liberation Sans', 'DejaVu Sans', sans-serif" text-anchor="end" font-weight="bold" fill="#1a1a1a" stroke="#1a1a1a" stroke-width="0.15">0.003</text>
<text x="337.30" y="250.50" font-size="5.50" font-family="'Liberation Sans', 'DejaVu Sans', sans-serif" text-anchor="end" font-weight="bold" fill="#1a1a1a" stroke="#1a1a1a" stroke-width="0.15">0.004</text>
<text x="359.10" y="390.80" font-size="4.90" font-family="'Liberation Serif', 'DejaVu Serif', serif" text-anchor="middle" font-weight="bold" fill="#1a1a1a" stroke="#1a1a1a" stroke-width="0.12">0</text>
<text x="392.70" y="390.80" font-size="4.90" font-family="'Liberation Serif', 'DejaVu Serif', serif" text-anchor="middle" font-weight="bold" fill="#1a1a1a" stroke="#1a1a1a" stroke-width="0.12">2</text>
<text x="426.30" y="390.80" font-size="4.90" font-family="'Liberation Serif', 'DejaVu Serif', serif" text-anchor="middle" font-weight="bold" fill="#1a1a1a" stroke="#1a1a1a" stroke-width="0.12">4</text>
<text x="459.90" y="390.80" font-size="4.90" font-family="'Liberation Serif', 'DejaVu Serif', serif" text-anchor="middle" font-weight="bold" fill="#1a1a1a" stroke="#1a1a1a" stroke-width="0.12">6</text>
<text x="493.50" y="390.80" font-size="4.90" font-family="'Liberation Serif', 'DejaVu Serif', serif" text-anchor="middle" font-weight="bold" fill="#1a1a1a" stroke="#1a1a1a" stroke-width="0.12">8</text>
<text x="527.10" y="390.80" font-size="4.90" font-family="'Liberation Serif', 'DejaVu Serif', serif" text-anchor="middle" font-weight="bold" fill="#1a1a1a" stroke="#1a1a1a" stroke-width="0.12">10</text>
<path d="M359.10,363.60L360.80,347.80L376.20,304.50L443.50,286.00L527.50,276.90" fill="none" stroke="#4a4a4a" stroke-width="0.85"/>
<path d="M376.20,299.80L376.20,309.30M374.60,299.80L377.80,299.80M374.60,309.30L377.80,309.30" stroke="#444" stroke-width="0.60" fill="none"/>
<path d="M443.50,270.00L443.50,302.70M441.90,270.00L445.10,270.00M441.90,302.70L445.10,302.70" stroke="#444" stroke-width="0.60" fill="none"/>
<path d="M527.50,269.30L527.50,285.30M525.90,269.30L529.10,269.30M525.90,285.30L529.10,285.30" stroke="#444" stroke-width="0.60" fill="none"/>
<rect x="357.30" y="361.80" width="3.6" height="3.6" fill="#111"/>
<rect x="359.00" y="346.00" width="3.6" height="3.6" fill="#111"/>
<rect x="374.40" y="302.70" width="3.6" height="3.6" fill="#111"/>
<rect x="441.70" y="284.20" width="3.6" height="3.6" fill="#111"/>
<rect x="525.70" y="275.10" width="3.6" height="3.6" fill="#111"/>
<rect x="357.3" y="360.2" width="3.6" height="3.6" fill="#111"/>
<rect x="348.8" y="242.1" width="58.8" height="9.3" fill="#fff" stroke="#888" stroke-width="0.6"/>
<line x1="352.00" y1="247.20" x2="368.50" y2="247.20" stroke="#222" stroke-width="0.80"/>
<rect x="358.7" y="245.4" width="3.6" height="3.6" fill="#111"/>
<text x="370.50" y="249.60" font-size="5.60" font-family="'Liberation Serif', 'DejaVu Serif', serif" font-weight="bold" fill="#222" textLength="35.30" lengthAdjust="spacingAndGlyphs">Current at 0.6 V</text>
<rect x="448.50" y="305.30" width="89.10" height="64.80" fill="none" stroke="#666" stroke-width="0.60"/>
<text x="446.20" y="318.30" font-size="3.00" font-family="'Liberation Serif', 'DejaVu Serif', serif" text-anchor="end" font-weight="bold" fill="#444">0.003</text>
<text x="446.20" y="334.60" font-size="3.00" font-family="'Liberation Serif', 'DejaVu Serif', serif" text-anchor="end" font-weight="bold" fill="#444">0.002</text>
<text x="446.20" y="350.90" font-size="3.00" font-family="'Liberation Serif', 'DejaVu Serif', serif" text-anchor="end" font-weight="bold" fill="#444">0.001</text>
<text x="446.20" y="367.30" font-size="3.00" font-family="'Liberation Serif', 'DejaVu Serif', serif" text-anchor="end" font-weight="bold" fill="#444">0.000</text>
<text x="452.50" y="374.30" font-size="2.60" font-family="'Liberation Serif', 'DejaVu Serif', serif" text-anchor="middle" font-weight="bold" fill="#777">0.001</text>
<text x="479.50" y="374.30" font-size="2.60" font-family="'Liberation Serif', 'DejaVu Serif', serif" text-anchor="middle" font-weight="bold" fill="#777">0.01</text>
<text x="486.50" y="374.30" font-size="2.60" font-family="'Liberation Serif', 'DejaVu Serif', serif" text-anchor="middle" font-weight="bold" fill="#777">0.1</text>
<text x="502.80" y="374.30" font-size="2.60" font-family="'Liberation Serif', 'DejaVu Serif', serif" text-anchor="middle" font-weight="bold" fill="#777">0.5</text>
<text x="526.70" y="374.30" font-size="2.60" font-family="'Liberation Serif', 'DejaVu Serif', serif" text-anchor="middle" font-weight="bold" fill="#777">1</text>
<text x="534.00" y="374.30" font-size="2.60" font-family="'Liberation Serif', 'DejaVu Serif', serif" text-anchor="middle" font-weight="bold" fill="#777">10</text>
<path d="M447.00,317.20L448.50,317.20M447.00,333.50L448.50,333.50M447.00,349.80L448.50,349.80M447.00,366.20L448.50,366.20M452.50,370.10L452.50,371.40M479.50,370.10L479.50,371.40M486.50,370.10L486.50,371.40M502.80,370.10L502.80,371.40M526.70,370.10L526.70,371.40M534.00,370.10L534.00,371.40" stroke="#666" stroke-width="0.50" fill="none"/>
<text x="0.00" y="0.00" font-size="3.60" font-family="'Liberation Serif', 'DejaVu Serif', serif" text-anchor="middle" font-weight="bold" fill="#333" textLength="23.50" lengthAdjust="spacingAndGlyphs" transform="translate(437.6,337.5) rotate(-90)">Current (mA)</text>
<text x="447.80" y="380.30" font-size="3.50" font-family="'Liberation Serif', 'DejaVu Serif', serif" font-weight="bold" fill="#444" textLength="89.50" lengthAdjust="spacingAndGlyphs">Concentration of Anti-EpCAM Antibody (µg/mL)</text>
<line x1="463.50" y1="366.50" x2="534.60" y2="317.80" stroke="#e48a8a" stroke-width="0.55"/>
<path d="M510.50,328.50L510.50,335.50M509.50,328.50L511.50,328.50M509.50,335.50L511.50,335.50" stroke="#555" stroke-width="0.45" fill="none"/>
<path d="M526.70,312.60L526.70,331.00M525.70,312.60L527.70,312.60M525.70,331.00L527.70,331.00" stroke="#555" stroke-width="0.45" fill="none"/>
<path d="M534.40,311.50L534.40,323.00M533.40,311.50L535.40,311.50M533.40,323.00L535.40,323.00" stroke="#555" stroke-width="0.45" fill="none"/>
<path d="M462.60,363.20L464.20,363.20M481.50,356.50L486.00,355.30" stroke="#555" stroke-width="0.50" fill="none"/>
<text x="487.00" y="356.50" font-size="3.00" font-family="'Liberation Serif', 'DejaVu Serif', serif" fill="#555">2</text>
<rect x="451" y="308.2" width="24.2" height="4.2" fill="#fff" stroke="#777" stroke-width="0.45"/>
<line x1="452.00" y1="310.30" x2="463.00" y2="310.30" stroke="#e07070" stroke-width="0.50"/>
<text x="463.50" y="311.40" font-size="2.80" font-family="'Liberation Serif', 'DejaVu Serif', serif" fill="#777" textLength="11.00" lengthAdjust="spacingAndGlyphs">Fitted Line</text>
<text x="367.70" y="409.40" font-size="7.70" font-family="'Liberation Serif', 'DejaVu Serif', serif" font-weight="bold" fill="#222" stroke="#222" stroke-width="0.15" textLength="151.50" lengthAdjust="spacingAndGlyphs">Concentration of Anti-EpCAM Ab (µg/mL)</text>
<text x="0.00" y="0.00" font-size="6.60" font-family="'Liberation Sans', 'DejaVu Sans', sans-serif" text-anchor="middle" font-weight="bold" fill="#222" textLength="45.00" lengthAdjust="spacingAndGlyphs" transform="translate(312.7,309.5) rotate(-90)">Current (mA)</text>
<text x="125.40" y="205.90" font-size="15" font-family="'Liberation Serif', 'DejaVu Serif', serif" fill="#111" textLength="16.40" lengthAdjust="spacingAndGlyphs">(<tspan font-weight="bold" font-size="14.2">a</tspan>)</text>
<text x="429.00" y="206.40" font-size="15" font-family="'Liberation Serif', 'DejaVu Serif', serif" fill="#111" textLength="17.60" lengthAdjust="spacingAndGlyphs">(<tspan font-weight="bold" font-size="14.2">b</tspan>)</text>
<text x="126.10" y="431.90" font-size="15" font-family="'Liberation Serif', 'DejaVu Serif', serif" fill="#111" textLength="15.40" lengthAdjust="spacingAndGlyphs">(<tspan font-weight="bold" font-size="14.2">c</tspan>)</text>
<text x="428.20" y="431.60" font-size="15" font-family="'Liberation Serif', 'DejaVu Serif', serif" fill="#111" textLength="18.60" lengthAdjust="spacingAndGlyphs">(<tspan font-weight="bold" font-size="14.2">d</tspan>)</text>
</svg>
</body></html>
